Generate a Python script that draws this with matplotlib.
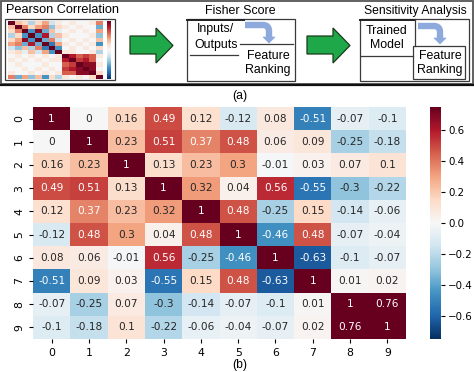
import numpy as np
import matplotlib
matplotlib.use("Agg")
import matplotlib.pyplot as plt
from matplotlib.patches import Rectangle, Polygon, PathPatch
from matplotlib.path import Path
import seaborn as sns

# ---------------- data ----------------
features = ["0", "1", "2", "3", "4", "5", "6", "7", "8", "9"]
row0 = [1, 0, 0.16, 0.49, 0.12, -0.12, 0.08, -0.51, -0.07, -0.1]
row1 = [0, 1, 0.23, 0.51, 0.37, 0.48, 0.06, 0.09, -0.25, -0.18]
row2 = [0.16, 0.23, 1, 0.13, 0.23, 0.3, -0.01, 0.03, 0.07, 0.1]
row3 = [0.49, 0.51, 0.13, 1, 0.32, 0.04, 0.56, -0.55, -0.3, -0.22]
row4 = [0.12, 0.37, 0.23, 0.32, 1, 0.48, -0.25, 0.15, -0.14, -0.06]
row5 = [-0.12, 0.48, 0.3, 0.04, 0.48, 1, -0.46, 0.48, -0.07, -0.04]
row6 = [0.08, 0.06, -0.01, 0.56, -0.25, -0.46, 1, -0.63, -0.1, -0.07]
row7 = [-0.51, 0.09, 0.03, -0.55, 0.15, 0.48, -0.63, 1, 0.01, 0.02]
row8 = [-0.07, -0.25, 0.07, -0.3, -0.14, -0.07, -0.1, 0.01, 1, 0.76]
row9 = [-0.1, -0.18, 0.1, -0.22, -0.06, -0.04, -0.07, 0.02, 0.76, 1]
cbar_ticks = [-0.6, -0.4, -0.2, 0.0, 0.2, 0.4, 0.6]

# thumbnail correlation matrix (coarse reading of the small picture)
thumb = [
    [1, .3, .2, -.3, .2, .4, -.2, .1, 0, .1, 0, 0, .1, .5],
    [.3, 1, .5, .2, .4, .5, -.4, .2, .1, 0, .1, 0, 0, -.5],
    [.2, .5, 1, -.6, .9, -.5, .3, -.1, 0, .1, 0, .1, 0, .4],
    [-.3, .2, -.6, 1, -.6, .8, -.3, .3, .1, 0, 0, 0, .1, -.4],
    [.2, .4, .9, -.6, 1, -.5, .5, -.2, 0, .1, 0, .1, 0, .3],
    [.4, .5, -.5, .8, -.5, 1, -.7, .4, .1, 0, .1, 0, .1, -.6],
    [-.2, -.4, .3, -.3, .5, -.7, 1, -.6, 0, .1, 0, .1, 0, .2],
    [.1, .2, -.1, .3, -.2, .4, -.6, 1, .1, .1, 0, 0, .1, -.3],
    [0, .1, 0, .1, 0, .1, 0, .1, 1, .8, .6, .7, .6, .1],
    [.1, 0, .1, 0, .1, 0, .1, .1, .8, 1, .7, .8, .6, 0],
    [0, .1, 0, 0, 0, .1, 0, 0, .6, .7, 1, .9, .9, .1],
    [0, 0, .1, 0, .1, 0, .1, 0, .7, .8, .9, 1, .9, 0],
    [.1, 0, 0, .1, 0, .1, 0, .1, .6, .6, .9, .9, 1, .2],
    [.5, -.5, .4, -.4, .3, -.6, .2, -.3, .1, 0, .1, 0, .2, 1],
]

corr = np.array([row0, row1, row2, row3, row4, row5, row6, row7, row8, row9])

W, H = 474, 372
fig = plt.figure(figsize=(W / 100, H / 100), dpi=100)

def px_axes(x0, y0, x1, y1):
    return fig.add_axes([x0 / W, 1 - y1 / H, (x1 - x0) / W, (y1 - y0) / H])

# ---------------- overlay for diagram ----------------
ov = fig.add_axes([0, 0, 1, 1])
ov.set_xlim(0, W)
ov.set_ylim(H, 0)
ov.axis("off")

SANS = ["Liberation Sans", "DejaVu Sans"]
tfs = 8.9
dark = "#3a3a3a"

# outer frame of panel (a)
ov.add_patch(Rectangle((1, 1), W - 2, 83, fill=False, ec="#555555", lw=1.3))
ov.plot([0, W], [85, 85], color="#111111", lw=1.6)

# Pearson Correlation
ov.text(6, 10, "Pearson Correlation", fontsize=9.2, family=SANS, va="center", ha="left")
ov.add_patch(Rectangle((5, 19), 110, 61, fill=True, fc="white", ec=dark, lw=0.9))

# green arrows
def green_arrow(x0):
    pts = [(x0, 36), (x0 + 26, 36), (x0 + 26, 28), (x0 + 43, 45.5),
           (x0 + 26, 63), (x0 + 26, 54), (x0, 54)]
    ov.add_patch(Polygon(pts, closed=True, fc="#1fa84a", ec="#1b3a1b", lw=0.9))

green_arrow(130)
green_arrow(307)

# light blue curved arrow
BLUE = "#8eaadc"
def blue_arrow(x0, y0, x1, y1):
    r = 6
    hl = 6
    verts = [(x0, y0), (x1 - r, y0), (x1, y0), (x1, y0 + r), (x1, y1 - hl)]
    codes = [Path.MOVETO, Path.LINETO, Path.CURVE3, Path.CURVE3, Path.LINETO]
    ov.add_patch(PathPatch(Path(verts, codes), fill=False, ec=BLUE, lw=4.6,
                           capstyle="butt", joinstyle="round"))
    ov.add_patch(Polygon([(x1 - 6, y1 - hl), (x1 + 6, y1 - hl), (x1, y1)],
                         closed=True, fc=BLUE, ec=BLUE, lw=0.5))

# Fisher Score
ov.text(240, 11, "Fisher Score", fontsize=tfs, family=SANS, ha="center", va="center")
ov.add_patch(Rectangle((187, 19), 108, 62, fill=False, ec=dark, lw=0.9))
ov.plot([187, 244], [19.5, 19.5], color="#222222", lw=1.4)
ov.plot([190, 238], [55, 55], color=dark, lw=0.9)
ov.plot([240, 293], [44, 44], color=dark, lw=0.9)
ov.text(216, 29, "Inputs/", fontsize=tfs, family=SANS, ha="center", va="center")
ov.text(216, 45, "Outputs", fontsize=tfs, family=SANS, ha="center", va="center")
ov.text(268, 56, "Feature", fontsize=tfs, family=SANS, ha="center", va="center")
ov.text(268, 70, "Ranking", fontsize=tfs, family=SANS, ha="center", va="center")
blue_arrow(245, 25, 269, 43)

# Sensitivity Analysis
ov.text(415, 11, "Sensitivity Analysis", fontsize=8.7, family=SANS, ha="center", va="center")
ov.add_patch(Rectangle((360, 19), 109, 62, fill=False, ec=dark, lw=0.9))
ov.plot([360, 415], [19.5, 19.5], color="#222222", lw=1.4)
ov.plot([415, 415], [19, 46], color=dark, lw=0.9)
ov.plot([361, 413], [56, 56], color=dark, lw=0.9)
ov.add_patch(Rectangle((413, 46), 52, 33, fc="white", ec=dark, lw=0.9))
ov.text(387, 31, "Trained", fontsize=tfs, family=SANS, ha="center", va="center")
ov.text(387, 45, "Model", fontsize=tfs, family=SANS, ha="center", va="center")
ov.text(440, 56, "Feature", fontsize=tfs, family=SANS, ha="center", va="center")
ov.text(440, 70, "Ranking", fontsize=tfs, family=SANS, ha="center", va="center")
blue_arrow(418, 26, 440, 44)

ov.text(240, 96, "(a)", fontsize=tfs, family=SANS, ha="center", va="center")
ov.text(240, 365, "(b)", fontsize=8.7, family=SANS, ha="center", va="center")

# thumbnail heatmap
tax = px_axes(8, 21, 103, 79)
tax.imshow(np.array(thumb), cmap="RdBu_r", vmin=-1, vmax=1, aspect="auto",
           interpolation="nearest")
tax.set_xticks([]); tax.set_yticks([])
for s in tax.spines.values():
    s.set_visible(False)
tcax = px_axes(107, 21, 111, 79)
sm = matplotlib.cm.ScalarMappable(cmap="RdBu_r", norm=matplotlib.colors.Normalize(-1, 1))
tcb = fig.colorbar(sm, cax=tcax)
tcb.set_ticks([])
tcb.outline.set_linewidth(0)

# ---------------- main heatmap ----------------
ax = px_axes(33, 107, 406, 339)
cax = px_axes(430, 107, 441, 339)
sns.heatmap(corr, annot=True, fmt=".2g", cmap="RdBu_r", vmin=-0.75, vmax=0.75,
            ax=ax, cbar_ax=cax, annot_kws={"size": 7.6},
            xticklabels=features, yticklabels=features)
ax.tick_params(axis="both", labelsize=7.8, length=3, width=0.8)
for t in ax.get_yticklabels():
    t.set_rotation(90)
    t.set_va("center")
for t in ax.get_xticklabels():
    t.set_rotation(0)
cax.set_yticks(cbar_ticks)
cax.tick_params(labelsize=7.4, length=3, width=0.8, pad=2)

fig.savefig("out.png", dpi=100)
